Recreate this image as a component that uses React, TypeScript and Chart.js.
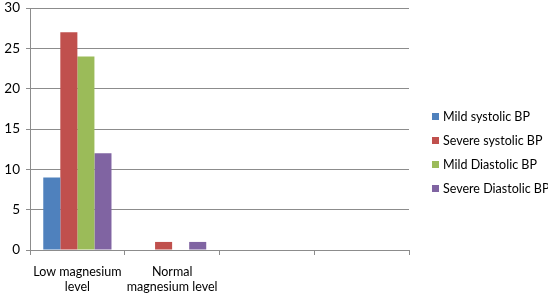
import React, { useEffect, useRef } from "react";
import { Chart, registerables } from "chart.js";

Chart.register(...registerables);

const categories: (string | string[])[] = [
  ["Low magnesium", "level"],
  ["Normal", "magnesium level"],
  "",
  "",
];
const mildSystolic = [9, 0, null, null];
const severeSystolic = [27, 1, null, null];
const mildDiastolic = [24, 0, null, null];
const severeDiastolic = [12, 1, null, null];
const seriesNames = ["Mild systolic BP", "Severe systolic BP", "Mild Diastolic BP", "Severe Diastolic BP"];
const seriesColors = ["#4F81BD", "#C0504D", "#9BBB59", "#8064A2"];
const yTicks = [0, 5, 10, 15, 20, 25, 30];

const FONT = "Lato, 'Open Sans', sans-serif";

export default function App() {
  const ref = useRef<HTMLCanvasElement | null>(null);
  useEffect(() => {
    if (!ref.current) return;
    const values = [mildSystolic, severeSystolic, mildDiastolic, severeDiastolic];
    const chart = new Chart(ref.current, {
      type: "bar",
      data: {
        labels: categories,
        datasets: values.map((v, i) => ({
          label: seriesNames[i],
          data: v,
          backgroundColor: seriesColors[i],
          borderWidth: 0,
          barPercentage: 1,
          categoryPercentage: 0.72,
        })),
      },
      options: {
        animation: false,
        responsive: false,
        maintainAspectRatio: false,
        layout: { padding: { top: 8, right: 139, left: 0, bottom: 0 } },
        plugins: { legend: { display: false }, tooltip: { enabled: false } },
        scales: {
          x: {
            grid: {
              offset: true,
              drawOnChartArea: false,
              drawTicks: true,
              tickLength: 5,
              color: "#8c8c8c",
            },
            border: { color: "#8c8c8c" },
            ticks: {
              color: "#000",
              font: { family: FONT, size: 12.5, lineHeight: 1.2 },
              maxRotation: 0,
              autoSkip: false,
              padding: 9,
            },
            afterFit: (s: any) => {
              s.height = 49;
              s.paddingLeft = 0;
              s.paddingRight = 0;
            },
          },
          y: {
            min: 0,
            max: 30,
            afterBuildTicks: (s: any) => { s.ticks = yTicks.map((v) => ({ value: v })); },
            grid: { color: "#8c8c8c", tickLength: 4 },
            border: { color: "#8c8c8c" },
            ticks: {
              color: "#000",
              font: { family: FONT, size: 13.5 },
              padding: 6,
            },
            afterFit: (s: any) => {
              s.width = 30;
              s.paddingTop = 0;
              s.paddingBottom = 0;
            },
          },
        },
      },
    });
    return () => chart.destroy();
  }, []);

  return (
    <div style={{ position: "fixed", left: 0, top: 0, width: 548, height: 299, background: "#fff" }}>
      <canvas ref={ref} width={548} height={299} style={{ position: "absolute", left: 0, top: 0 }} />
      <div style={{ position: "absolute", left: 432, top: 104, fontFamily: FONT, fontSize: 12.5, color: "#000" }}>
        {seriesNames.map((n, i) => (
          <div key={n} style={{ display: "flex", alignItems: "center", height: 24.2, whiteSpace: "nowrap" }}>
            <span style={{ display: "inline-block", width: 7, height: 7, background: seriesColors[i], marginRight: 4 }} />
            {n}
          </div>
        ))}
      </div>
    </div>
  );
}
